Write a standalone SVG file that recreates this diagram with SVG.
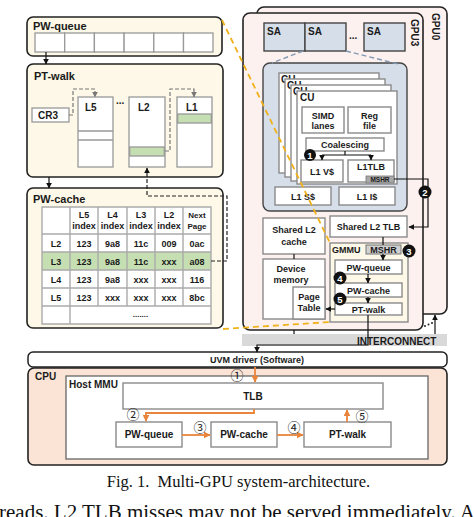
<svg xmlns="http://www.w3.org/2000/svg" width="474" height="517" viewBox="0 0 474 517">
<defs>
<marker id="ab" viewBox="0 0 10 10" refX="9" refY="5" markerWidth="6" markerHeight="6" markerUnits="userSpaceOnUse" orient="auto"><path d="M0,0 L10,5 L0,10 z" fill="#111"/></marker>
<marker id="ag" viewBox="0 0 10 10" refX="9" refY="5" markerWidth="6" markerHeight="6" markerUnits="userSpaceOnUse" orient="auto"><path d="M0,0 L10,5 L0,10 z" fill="#777"/></marker>
<marker id="ao" viewBox="0 0 10 10" refX="9" refY="5" markerWidth="7" markerHeight="7" markerUnits="userSpaceOnUse" orient="auto"><path d="M0,0 L10,5 L0,10 z" fill="#e9843c"/></marker>
</defs>
<style>
text{font-family:"Liberation Sans",Arial,sans-serif;font-weight:bold;fill:#1a1a1a}
.panel{fill:#fdf8e7;stroke:#222;stroke-width:1.6}
.gpu{fill:#fdf1f0;stroke:#222;stroke-width:1.6}
.sa{fill:#d6dee9;stroke:#444;stroke-width:1.4}
.cell{fill:#fff;stroke:#999;stroke-width:1.3}
.inner{fill:#fff;stroke:#8a8a8a;stroke-width:1.4}
.grid{fill:none;stroke:#aaa;stroke-width:1.4}
.green{fill:#c5dfb3}
.l11{font-size:11px}
.l10{font-size:10px}
.t9{font-size:9px}
.t8{font-size:8px}
.c{text-anchor:middle}
.wire{fill:none;stroke:#111;stroke-width:1.2}
.dash{fill:none;stroke:#777;stroke-width:1.2;stroke-dasharray:4 2}
.kdash{fill:none;stroke:#222;stroke-width:1.2;stroke-dasharray:4 2}
.ydash{fill:none;stroke:#f0b21c;stroke-width:1.8;stroke-dasharray:6 4}
.bdash{fill:none;stroke:#8198b3;stroke-width:1.4;stroke-dasharray:5 3}
.orange{fill:none;stroke:#e9843c;stroke-width:1.8}
.circ{font-family:"Noto Sans CJK JP","DejaVu Sans",sans-serif;font-weight:normal;font-size:13px;text-anchor:middle;fill:#222}
.bc{fill:#111}
.bcn{font-size:9.5px;fill:#fff;text-anchor:middle}
.cap{font-family:"Liberation Serif","Times New Roman",serif;font-weight:normal;fill:#111}
</style>

<!-- Left: PW-queue -->
<g id="pw-queue-panel">
<rect class="panel" x="27" y="17" width="195" height="39" rx="6"/>
<text class="l11" x="33" y="30">PW-queue</text>
<rect class="cell" x="35" y="33" width="29.7" height="19"/>
<rect class="cell" x="64.7" y="33" width="29.7" height="19"/>
<rect class="cell" x="94.4" y="33" width="29.7" height="19"/>
<rect class="cell" x="124.1" y="33" width="29.7" height="19"/>
<rect class="cell" x="153.8" y="33" width="29.7" height="19"/>
<rect class="cell" x="183.5" y="33" width="29.5" height="19"/>
</g>

<!-- Left: PT-walk -->
<g id="pt-walk-panel">
<rect class="panel" x="27" y="64" width="196" height="113" rx="6"/>
<text class="l11" x="34" y="80">PT-walk</text>
<rect class="cell" x="32" y="108" width="37" height="14"/>
<text class="l10" x="38" y="119">CR3</text>
<rect class="cell" x="78" y="97" width="35" height="70"/>
<line x1="78" y1="131" x2="113" y2="131" stroke="#999" stroke-width="1.3"/>
<line x1="78" y1="140" x2="113" y2="140" stroke="#999" stroke-width="1.3"/>
<text class="l10" x="85" y="111">L5</text>
<text class="l10" x="116" y="104">...</text>
<rect class="cell" x="129" y="97" width="36" height="70"/>
<rect class="green" x="129.7" y="147" width="34.6" height="9" stroke="#999" stroke-width="1.3"/>
<text class="l10" x="138" y="111">L2</text>
<rect class="cell" x="177" y="97" width="35" height="70"/>
<rect class="green" x="177.7" y="114" width="33.6" height="9" stroke="#999" stroke-width="1.3"/>
<text class="l10" x="186" y="111">L1</text>
</g>

<!-- Left: PW-cache -->
<g id="pw-cache-panel">
<rect class="panel" x="27" y="188" width="196" height="140" rx="6"/>
<text class="l11" x="33" y="203">PW-cache</text>
<rect x="42" y="207" width="169" height="117" fill="#fff"/>
<rect class="green" x="42" y="252" width="169" height="18"/>
<path class="grid" d="M42,207H211V324H42Z M42,234H211 M42,252H211 M42,270H211 M42,288H211 M42,306H211 M70,207V324 M98,207V306 M127,207V306 M155,207V306 M183,207V306"/>
<g class="t9 c">
<text x="84" y="218">L5</text><text x="84" y="229">index</text>
<text x="112.5" y="218">L4</text><text x="112.5" y="229">index</text>
<text x="141" y="218">L3</text><text x="141" y="229">index</text>
<text x="169" y="218">L2</text><text x="169" y="229">index</text>
<text x="197" y="218" class="t8">Next</text><text x="197" y="229" class="t8">Page</text>
<text x="56" y="246.5">L2</text><text x="84" y="246.5">123</text><text x="112.5" y="246.5">9a8</text><text x="141" y="246.5">11c</text><text x="169" y="246.5">009</text><text x="197" y="246.5">0ac</text>
<text x="56" y="264.5">L3</text><text x="84" y="264.5">123</text><text x="112.5" y="264.5">9a8</text><text x="141" y="264.5">11c</text><text x="169" y="264.5">xxx</text><text x="197" y="264.5">a08</text>
<text x="56" y="282.5">L4</text><text x="84" y="282.5">123</text><text x="112.5" y="282.5">9a8</text><text x="141" y="282.5">xxx</text><text x="169" y="282.5">xxx</text><text x="197" y="282.5">116</text>
<text x="56" y="300.5">L5</text><text x="84" y="300.5">123</text><text x="112.5" y="300.5">xxx</text><text x="141" y="300.5">xxx</text><text x="169" y="300.5">xxx</text><text x="197" y="300.5">8bc</text>
<text x="140.5" y="317" class="t8">.......</text>
</g>
</g>

<!-- GPU stack -->
<g id="gpu0">
<rect class="gpu" x="257" y="7" width="190" height="307" rx="7"/>
<text class="l10" transform="translate(432,13) rotate(90)">GPU0</text>
</g>
<g id="gpu3">
<rect class="gpu" x="243" y="13" width="180" height="317" rx="7"/>
<text class="l10" transform="translate(411,19) rotate(90)">GPU3</text>
</g>

<g id="sa-row">
<rect class="sa" x="264" y="23" width="41" height="28"/>
<text class="l10" x="267" y="35">SA</text>
<rect class="sa" x="305" y="23" width="41" height="28"/>
<text class="l10" x="308" y="35">SA</text>
<text class="l10" x="349" y="39">...</text>
<rect class="sa" x="364" y="23" width="41" height="28"/>
<text class="l10" x="367" y="35">SA</text>
</g>

<g id="sa-detail">
<rect class="sa" x="263" y="63" width="144" height="148" rx="7" stroke="#333" stroke-width="1.6"/>
<rect class="inner" x="279" y="73" width="100" height="100"/>
<text class="l10" x="281" y="83">CU</text>
<rect class="inner" x="285" y="79" width="100" height="98"/>
<text class="l10" x="287" y="89">CU</text>
<rect class="inner" x="291" y="85" width="100" height="96"/>
<text class="l10" x="293" y="95">CU</text>
<rect class="inner" x="297" y="91" width="100" height="93"/>
<text class="l10" x="300" y="101">CU</text>
<rect class="inner" x="302" y="107" width="42" height="26"/>
<text class="t9 c" x="323" y="119">SIMD</text><text class="t9 c" x="323" y="129">lanes</text>
<rect class="inner" x="348" y="107" width="43" height="26"/>
<text class="t9 c" x="369.5" y="119">Reg</text><text class="t9 c" x="369.5" y="129">file</text>
<rect class="inner" x="306" y="138" width="78" height="13"/>
<text class="t9 c" x="345" y="148">Coalescing</text>
<rect class="inner" x="301" y="160" width="42" height="22"/>
<text class="t9 c" x="322" y="175">L1 V$</text>
<rect class="inner" x="348" y="160" width="46" height="22"/>
<text class="t9 c" x="371" y="170">L1TLB</text>
<rect x="366" y="176" width="28" height="7" fill="#a8a8a8" stroke="#777" stroke-width="0.8"/>
<text x="380" y="182" font-size="6.5" text-anchor="middle">MSHR</text>
<rect class="inner" x="275" y="187" width="56" height="18"/>
<text class="t9 c" x="303" y="199.5">L1 S$</text>
<rect class="inner" x="339" y="187" width="56" height="18"/>
<text class="t9 c" x="367" y="199.5">L1 I$</text>
</g>

<g id="shared-l2-cache">
<rect class="inner" x="263" y="218" width="62" height="36"/>
<text class="t9 c" x="294" y="233">Shared L2</text>
<text class="t9 c" x="294" y="245">cache</text>
</g>
<g id="device-memory">
<rect class="inner" x="263" y="259" width="62" height="60"/>
<text class="t9 c" x="291" y="272">Device</text>
<text class="t9 c" x="291" y="283">memory</text>
<rect class="inner" x="293" y="287" width="32" height="32"/>
<text class="t9 c" x="309" y="300">Page</text>
<text class="t9 c" x="309" y="311">Table</text>
</g>
<g id="shared-l2-tlb">
<rect class="inner" x="330" y="216" width="77" height="21"/>
<text class="t9 c" x="368.5" y="230">Shared L2 TLB</text>
</g>
<g id="gmmu">
<rect x="330" y="243" width="78" height="79" fill="#fdf8e7" stroke="#8a8a8a" stroke-width="1.4"/>
<text class="t9" x="332" y="253">GMMU</text>
<rect x="366" y="245" width="35" height="9" fill="#d0d0d0" stroke="#777" stroke-width="1"/>
<text class="t9 c" x="383.5" y="253">MSHR</text>
<rect class="inner" x="335" y="260" width="67" height="14"/>
<text class="t9 c" x="368.5" y="271">PW-queue</text>
<rect class="inner" x="335" y="283" width="67" height="14"/>
<text class="t9 c" x="368.5" y="294">PW-cache</text>
<rect class="inner" x="335" y="303" width="67" height="12"/>
<text class="t9 c" x="368.5" y="313">PT-walk</text>
</g>

<g id="interconnect">
<rect x="242" y="334" width="205" height="12" fill="#d9d9d9"/>
<text class="l10" x="357" y="344.5">INTERCONNECT</text>
</g>

<g id="uvm-driver">
<rect x="28" y="352" width="419" height="15" rx="5" fill="#fff" stroke="#222" stroke-width="1.5"/>
<text class="t9 c" x="257" y="363">UVM driver (Software)</text>
</g>

<g id="cpu">
<rect x="28" y="368" width="419" height="97" rx="6" fill="#fbe4d5" stroke="#222" stroke-width="1.6"/>
<text class="l10" x="35" y="380">CPU</text>
<rect x="66" y="376" width="362" height="83" fill="#fff" stroke="#666" stroke-width="1.3"/>
<text class="l10" x="69" y="388">Host MMU</text>
</g>
<g id="host-tlb">
<rect x="123" y="383" width="260" height="26" fill="#fff" stroke="#8a8a8a" stroke-width="1.4"/>
<text class="l10 c" x="253" y="400">TLB</text>
</g>
<g id="host-pw-queue">
<rect x="116" y="422" width="66" height="25" fill="#fff" stroke="#8a8a8a" stroke-width="1.4"/>
<text class="l10 c" x="149" y="438">PW-queue</text>
</g>
<g id="host-pw-cache">
<rect x="211" y="422" width="66" height="25" fill="#fff" stroke="#8a8a8a" stroke-width="1.4"/>
<text class="l10 c" x="244" y="438">PW-cache</text>
</g>
<g id="host-pt-walk">
<rect x="304" y="422" width="87" height="25" fill="#fff" stroke="#8a8a8a" stroke-width="1.4"/>
<text class="l10 c" x="347.5" y="438">PT-walk</text>
</g>

<!-- connectors -->
<g id="connectors">
<line class="wire" x1="46" y1="52" x2="46" y2="64" marker-end="url(#ab)"/>
<line class="wire" x1="49" y1="177" x2="49" y2="188" marker-end="url(#ab)"/>
<path class="dash" d="M69,115H73V89H95V97" marker-end="url(#ag)"/>
<path class="dash" d="M165,151H170V89H194V97" marker-end="url(#ag)"/>
<path class="kdash" d="M211,261H227V196H147V168" marker-end="url(#ab)"/>

<line class="ydash" x1="222" y1="20" x2="330" y2="243"/>
<line class="ydash" x1="223" y1="329" x2="330" y2="322"/>
<line class="bdash" x1="303" y1="51" x2="272" y2="63"/>
<line class="bdash" x1="346" y1="51" x2="398" y2="64"/>

<line class="wire" x1="345" y1="151" x2="345" y2="155"/>
<line class="wire" x1="322" y1="155" x2="371" y2="155"/>
<line class="wire" x1="322" y1="155" x2="322" y2="160" marker-end="url(#ab)"/>
<line class="wire" x1="371" y1="155" x2="371" y2="160" marker-end="url(#ab)"/>
<path class="wire" d="M394,179H428V227H409" marker-end="url(#ab)"/>
<line class="wire" x1="383" y1="237" x2="383" y2="245"/>
<line class="wire" x1="383" y1="254" x2="383" y2="260" marker-end="url(#ab)"/>
<line class="wire" x1="368" y1="274" x2="368" y2="283" marker-end="url(#ab)"/>
<line class="wire" x1="368" y1="297" x2="368" y2="303" marker-end="url(#ab)"/>
<line class="wire" x1="335" y1="309" x2="326" y2="309" marker-end="url(#ab)"/>
<line class="wire" x1="294" y1="254" x2="294" y2="259"/>
<line class="wire" x1="294" y1="330" x2="294" y2="334" stroke="#888"/>
<line class="wire" x1="435" y1="334" x2="435" y2="315" marker-end="url(#ab)"/>
<circle cx="425" cy="326" r="1" fill="#222"/><circle cx="428.5" cy="324.5" r="1" fill="#222"/><circle cx="432" cy="323" r="1" fill="#222"/>
<path class="wire" d="M368,315V345H257V352" marker-end="url(#ab)"/>

<circle class="bc" cx="310" cy="155" r="6"/><text class="bcn" x="310" y="158.5">1</text>
<circle class="bc" cx="425" cy="192" r="6.5"/><text class="bcn" x="425" y="195.5">2</text>
<circle class="bc" cx="409" cy="251" r="6.5"/><text class="bcn" x="409" y="254.5">3</text>
<circle class="bc" cx="340" cy="278" r="6.5"/><text class="bcn" x="340" y="281.5">4</text>
<circle class="bc" cx="340" cy="299" r="6.5"/><text class="bcn" x="340" y="302.5">5</text>

<line class="orange" x1="255" y1="367" x2="255" y2="382" marker-end="url(#ao)"/>
<path class="orange" d="M254,409V413H146V421" marker-end="url(#ao)"/>
<line class="orange" x1="182" y1="435" x2="210" y2="435" marker-end="url(#ao)"/>
<line class="orange" x1="277" y1="435" x2="303" y2="435" marker-end="url(#ao)"/>
<line class="orange" x1="347" y1="422" x2="347" y2="410" marker-end="url(#ao)"/>
<text class="circ" x="237" y="380">①</text>
<text class="circ" x="133" y="419">②</text>
<text class="circ" x="200" y="432">③</text>
<text class="circ" x="294" y="432">④</text>
<text class="circ" x="362" y="421">⑤</text>
</g>

<text class="cap" x="238.5" y="487" font-size="16.5" text-anchor="middle" xml:space="preserve">Fig. 1.  Multi-GPU system-architecture.</text>
<text class="cap" x="-1" y="519" font-size="20" textLength="476" lengthAdjust="spacingAndGlyphs">reads. L2 TLB misses may not be served immediately. A</text>
</svg>
